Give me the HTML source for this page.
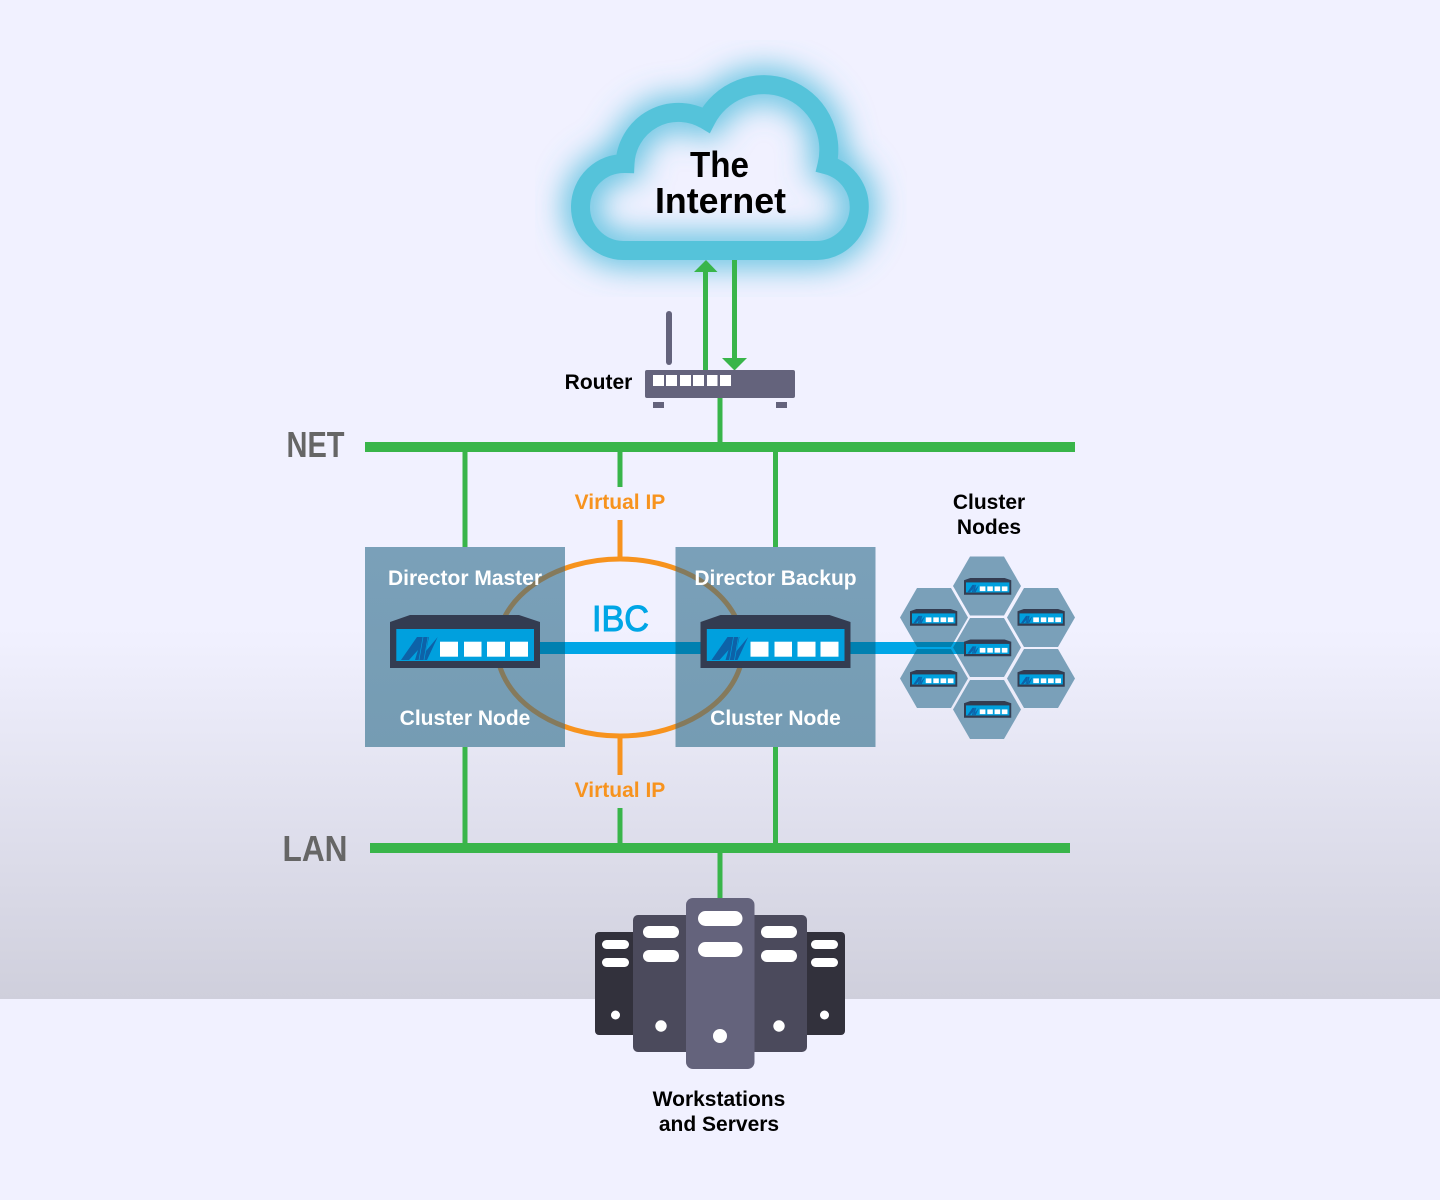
<!DOCTYPE html>
<html><head><meta charset="utf-8"><style>
html,body{margin:0;padding:0;background:#f1f1ff}
svg{display:block}
text{font-family:"Liberation Sans",sans-serif;font-weight:700;text-anchor:middle}
</style></head><body>
<svg xmlns="http://www.w3.org/2000/svg" width="1440" height="1200" viewBox="0 0 1440 1200">
<defs>
<linearGradient id="bg" x1="0" y1="0" x2="0" y2="1">
<stop offset="0" stop-color="#f1f1ff"/><stop offset=".63" stop-color="#f1f1ff"/><stop offset="1" stop-color="#cfcfdc"/>
</linearGradient>
<linearGradient id="bx" x1="0" y1="0" x2="0" y2="1">
<stop offset="0" stop-color="#7aa0b9"/><stop offset="1" stop-color="#759cb3"/>
</linearGradient>
<filter id="glow" filterUnits="userSpaceOnUse" x="535" y="40" width="372" height="257"><feGaussianBlur stdDeviation="16"/></filter>
<path id="cloud" d="M623 250.500H817A43.500 43.500 0 0 0 827 165A65 65 0 0 0 706 120A53.500 53.500 0 0 0 625 163.500A43.500 43.500 0 0 0 623 250.500Z"/>
<clipPath id="boxclip"><rect x="365" y="547" width="200" height="200"/><rect x="675.500" y="547" width="200" height="200"/></clipPath>
<clipPath id="hexclip">
<polygon points="900,617.500 917,588 951,588 968,617.500 951,647 917,647"/>
<polygon points="900,678.500 917,649 951,649 968,678.500 951,708 917,708"/>
<polygon points="953,647.500 970,618 1004,618 1021,647.500 1004,677 970,677"/>
</clipPath>
<g id="sw">
<polygon points="0,7 20,0 129,0 150,7 150,53 0,53" fill="#333c51"/>
<rect x="6.300" y="14" width="137.700" height="32" fill="#00a0de"/>
<polygon points="11,45 27,22 39,22 36,36 47.700,22 37,45 25,45 28,35 19,45" fill="#0d62a8"/>
<g stroke="#00a0de" stroke-width=".7"><line x1="29" y1="45" x2="33" y2="22"/><line x1="34" y1="45" x2="38" y2="22"/></g>
<rect x="50" y="26.700" width="18" height="15" fill="#fff"/>
<rect x="74" y="26.700" width="17.500" height="15" fill="#fff"/>
<rect x="97" y="26.700" width="18" height="15" fill="#fff"/>
<rect x="120" y="26.700" width="18" height="15" fill="#fff"/>
</g>
<polygon id="hx" points="-34,0 -17,-29.500 17,-29.500 34,0 17,29.500 -17,29.500" fill="#7aa0b9"/>
</defs>

<rect width="1440" height="999" fill="url(#bg)"/>
<rect y="999" width="1440" height="201" fill="#f1f1ff"/>

<!-- Cloud -->
<use href="#cloud" fill="none" stroke="#4fbcdc" stroke-width="30" filter="url(#glow)"/>
<use href="#cloud" fill="none" stroke="#55c3da" stroke-width="19" stroke-linejoin="miter"/>
<text x="719.500" y="177" font-size="36" textLength="59" lengthAdjust="spacingAndGlyphs" fill="#000">The</text>
<text x="720.500" y="213" font-size="36" textLength="131" lengthAdjust="spacingAndGlyphs" fill="#000">Internet</text>

<!-- Router arrows -->
<rect x="703" y="270" width="5" height="101" fill="#39b54a"/>
<polygon points="706,260 717.500,272 694,272" fill="#39b54a"/>
<rect x="732" y="260" width="5" height="99" fill="#39b54a"/>
<polygon points="722,358 747,358 734.500,370.500" fill="#39b54a"/>

<!-- Router -->
<rect x="666" y="311" width="6" height="54" rx="3" fill="#64637c"/>
<rect x="645" y="370" width="150" height="28" rx="2" fill="#64637c"/>
<g fill="#fff">
<rect x="653" y="375" width="11" height="11"/><rect x="666" y="375" width="11" height="11"/>
<rect x="680" y="375" width="11" height="11"/><rect x="693" y="375" width="11" height="11"/>
<rect x="707" y="375" width="10.500" height="11"/><rect x="720" y="375" width="11" height="11"/>
</g>
<rect x="653" y="402" width="11" height="6" fill="#64637c"/>
<rect x="776" y="402" width="11" height="6" fill="#64637c"/>
<text x="598.500" y="389" font-size="21" fill="#000">Router</text>

<!-- Green lines -->
<g fill="#39b54a">
<rect x="365" y="442" width="710" height="10"/>
<rect x="370" y="843" width="700" height="10"/>
<rect x="717.500" y="398" width="5" height="45"/>
<rect x="462.500" y="452" width="5" height="95"/>
<rect x="773" y="452" width="5" height="95"/>
<rect x="617.500" y="452" width="5" height="35"/>
<rect x="462.500" y="747" width="5" height="96"/>
<rect x="773" y="747" width="5" height="96"/>
<rect x="617.500" y="808" width="5" height="35"/>
<rect x="717.500" y="853" width="5" height="46"/>
</g>
<text x="315.500" y="457" font-size="36" textLength="58" lengthAdjust="spacingAndGlyphs" fill="#666">NET</text>
<text x="315" y="861" font-size="36" textLength="65" lengthAdjust="spacingAndGlyphs" fill="#666">LAN</text>

<!-- Orange -->
<rect x="617.500" y="520" width="5" height="39" fill="#f7931e"/>
<rect x="617.500" y="736" width="5" height="39" fill="#f7931e"/>
<text x="620" y="509" font-size="21" fill="#f7931e">Virtual IP</text>
<text x="620" y="797" font-size="21" fill="#f7931e">Virtual IP</text>
<ellipse cx="620" cy="647.500" rx="123" ry="88.500" fill="none" stroke="#f7931e" stroke-width="5"/>
<text x="620.500" y="631" font-size="36" style="font-weight:400" stroke="#00a6e6" stroke-width="1" textLength="57" lengthAdjust="spacingAndGlyphs" fill="#00a6e6">IBC</text>

<!-- Cable -->
<rect x="540" y="642" width="425" height="12" fill="#00a6e6"/>

<!-- Boxes -->
<rect x="365" y="547" width="200" height="200" fill="url(#bx)"/>
<rect x="675.500" y="547" width="200" height="200" fill="url(#bx)"/>
<ellipse cx="620" cy="647.500" rx="123" ry="88.500" fill="none" stroke="#857a5c" stroke-width="5" clip-path="url(#boxclip)"/>
<rect x="540" y="642" width="336" height="12" fill="#0080b0" clip-path="url(#boxclip)"/>
<text x="465" y="585" font-size="21" fill="#fff">Director Master</text>
<text x="465" y="725" font-size="21" fill="#fff">Cluster Node</text>
<text x="775.500" y="585" font-size="21" fill="#fff">Director Backup</text>
<text x="775.500" y="725" font-size="21" fill="#fff">Cluster Node</text>
<use href="#sw" transform="translate(390,615)"/>
<use href="#sw" transform="translate(700.500,615)"/>

<!-- Hexes -->
<use href="#hx" x="987" y="586"/>
<use href="#hx" x="987" y="709.500"/>
<use href="#hx" x="934" y="617.500"/>
<use href="#hx" x="934" y="678.500"/>
<use href="#hx" x="987" y="647.500"/>
<use href="#hx" x="1041" y="617.500"/>
<use href="#hx" x="1041" y="678.500"/>
<rect x="900" y="642" width="66" height="12" fill="#0080b0" clip-path="url(#hexclip)"/>
<use href="#sw" transform="translate(964,578) scale(.315)"/>
<use href="#sw" transform="translate(964,639.500) scale(.315)"/>
<use href="#sw" transform="translate(964,701) scale(.315)"/>
<use href="#sw" transform="translate(910,609) scale(.315)"/>
<use href="#sw" transform="translate(910,670) scale(.315)"/>
<use href="#sw" transform="translate(1017.500,609) scale(.315)"/>
<use href="#sw" transform="translate(1017.500,670) scale(.315)"/>
<text x="989" y="509" font-size="21" fill="#000">Cluster</text>
<text x="989" y="534" font-size="21" fill="#000">Nodes</text>

<!-- Servers -->
<rect x="595" y="932" width="45" height="103" rx="4" fill="#32313c"/>
<rect x="800" y="932" width="45" height="103" rx="4" fill="#32313c"/>
<g fill="#fff">
<rect x="602" y="940" width="27" height="9" rx="4.500"/><rect x="602" y="958" width="27" height="9" rx="4.500"/>
<rect x="811" y="940" width="27" height="9" rx="4.500"/><rect x="811" y="958" width="27" height="9" rx="4.500"/>
<circle cx="615.500" cy="1015" r="4.500"/><circle cx="824.500" cy="1015" r="4.500"/>
</g>
<rect x="633" y="915" width="60" height="137" rx="5" fill="#4b4a5c"/>
<rect x="747" y="915" width="60" height="137" rx="5" fill="#4b4a5c"/>
<g fill="#fff">
<rect x="643" y="926" width="36" height="12" rx="6"/><rect x="643" y="950" width="36" height="12" rx="6"/>
<rect x="761" y="926" width="36" height="12" rx="6"/><rect x="761" y="950" width="36" height="12" rx="6"/>
<circle cx="661" cy="1026" r="5.700"/><circle cx="779" cy="1026" r="5.700"/>
</g>
<rect x="686" y="898" width="68.500" height="171" rx="7" fill="#64637c"/>
<g fill="#fff">
<rect x="698" y="911" width="44.500" height="15" rx="7.500"/><rect x="698" y="942" width="44.500" height="15" rx="7.500"/>
<circle cx="720" cy="1036" r="7"/>
</g>
<text x="719" y="1106" font-size="21" fill="#000">Workstations</text>
<text x="719" y="1131" font-size="21" fill="#000">and Servers</text>
</svg>
</body></html>
